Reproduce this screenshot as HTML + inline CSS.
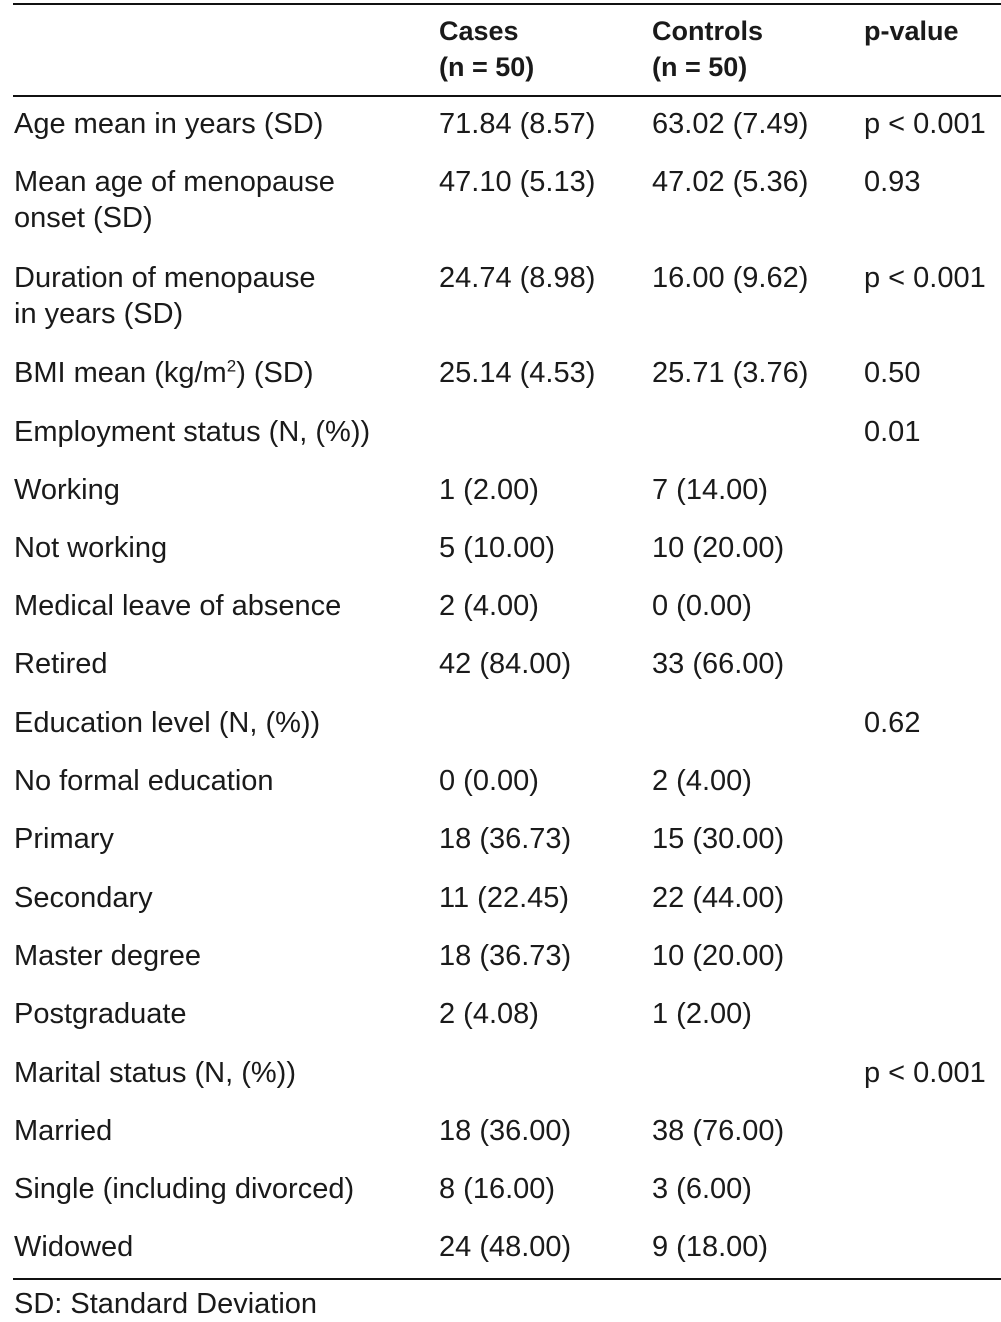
<!DOCTYPE html>
<html><head><meta charset="utf-8"><style>
html,body{margin:0;padding:0;background:#fff;}
body{width:1001px;height:1295px;position:relative;overflow:hidden;font-family:"Liberation Sans",sans-serif;color:#1a1a1a;}
.t{position:absolute;font-size:29px;line-height:36px;white-space:nowrap;}
.h{font-weight:bold;font-size:27px;}
.rule{position:absolute;left:13px;right:0;height:2px;background:#111;}
</style></head><body>
<div class="rule" style="top:3px"></div>
<div class="rule" style="top:95px"></div>
<div class="rule" style="top:1278px"></div>
<div class="t h" style="left:439px;top:13px">Cases<br>(n = 50)</div>
<div class="t h" style="left:652px;top:13px">Controls<br>(n = 50)</div>
<div class="t h" style="left:864px;top:13px">p-value</div>
<div id="rows"></div>
<div class="t" style="left:14px;top:1286px">SD: Standard Deviation</div>
<script>
const labels=["Age mean in years (SD)","Mean age of menopause<br>onset (SD)","Duration of menopause<br>in years (SD)","BMI mean (kg/m<sup style='font-size:17px;line-height:0'>2</sup>) (SD)","Employment status (N, (%))","Working","Not working","Medical leave of absence","Retired","Education level (N, (%))","No formal education","Primary","Secondary","Master degree","Postgraduate","Marital status (N, (%))","Married","Single (including divorced)","Widowed"];
const cases=["71.84 (8.57)","47.10 (5.13)","24.74 (8.98)","25.14 (4.53)","","1 (2.00)","5 (10.00)","2 (4.00)","42 (84.00)","","0 (0.00)","18 (36.73)","11 (22.45)","18 (36.73)","2 (4.08)","","18 (36.00)","8 (16.00)","24 (48.00)"];
const controls=["63.02 (7.49)","47.02 (5.36)","16.00 (9.62)","25.71 (3.76)","","7 (14.00)","10 (20.00)","0 (0.00)","33 (66.00)","","2 (4.00)","15 (30.00)","22 (44.00)","10 (20.00)","1 (2.00)","","38 (76.00)","3 (6.00)","9 (18.00)"];
const pvals=["p < 0.001","0.93","p < 0.001","0.50","0.01","","","","","0.62","","","","","","p < 0.001","","",""];
const centers=[124,182,278,373,432,490,548,606,664,723,781,839,898,956,1014,1073,1131,1189,1247];
const cont=document.getElementById('rows');
const cols=[[14,labels,'row-label'],[439,cases,'cases-value'],[652,controls,'controls-value'],[864,pvals,'p-value']];
for(let i=0;i<labels.length;i++){
  for(const [x,arr,nm] of cols){
    if(!arr[i])continue;
    const d=document.createElement('div');
    d.className='t';
    d.style.left=x+'px';d.style.top=(centers[i]-18)+'px';
    d.innerHTML=arr[i];
    
    
    cont.appendChild(d);
  }
}
</script>
</body></html>
